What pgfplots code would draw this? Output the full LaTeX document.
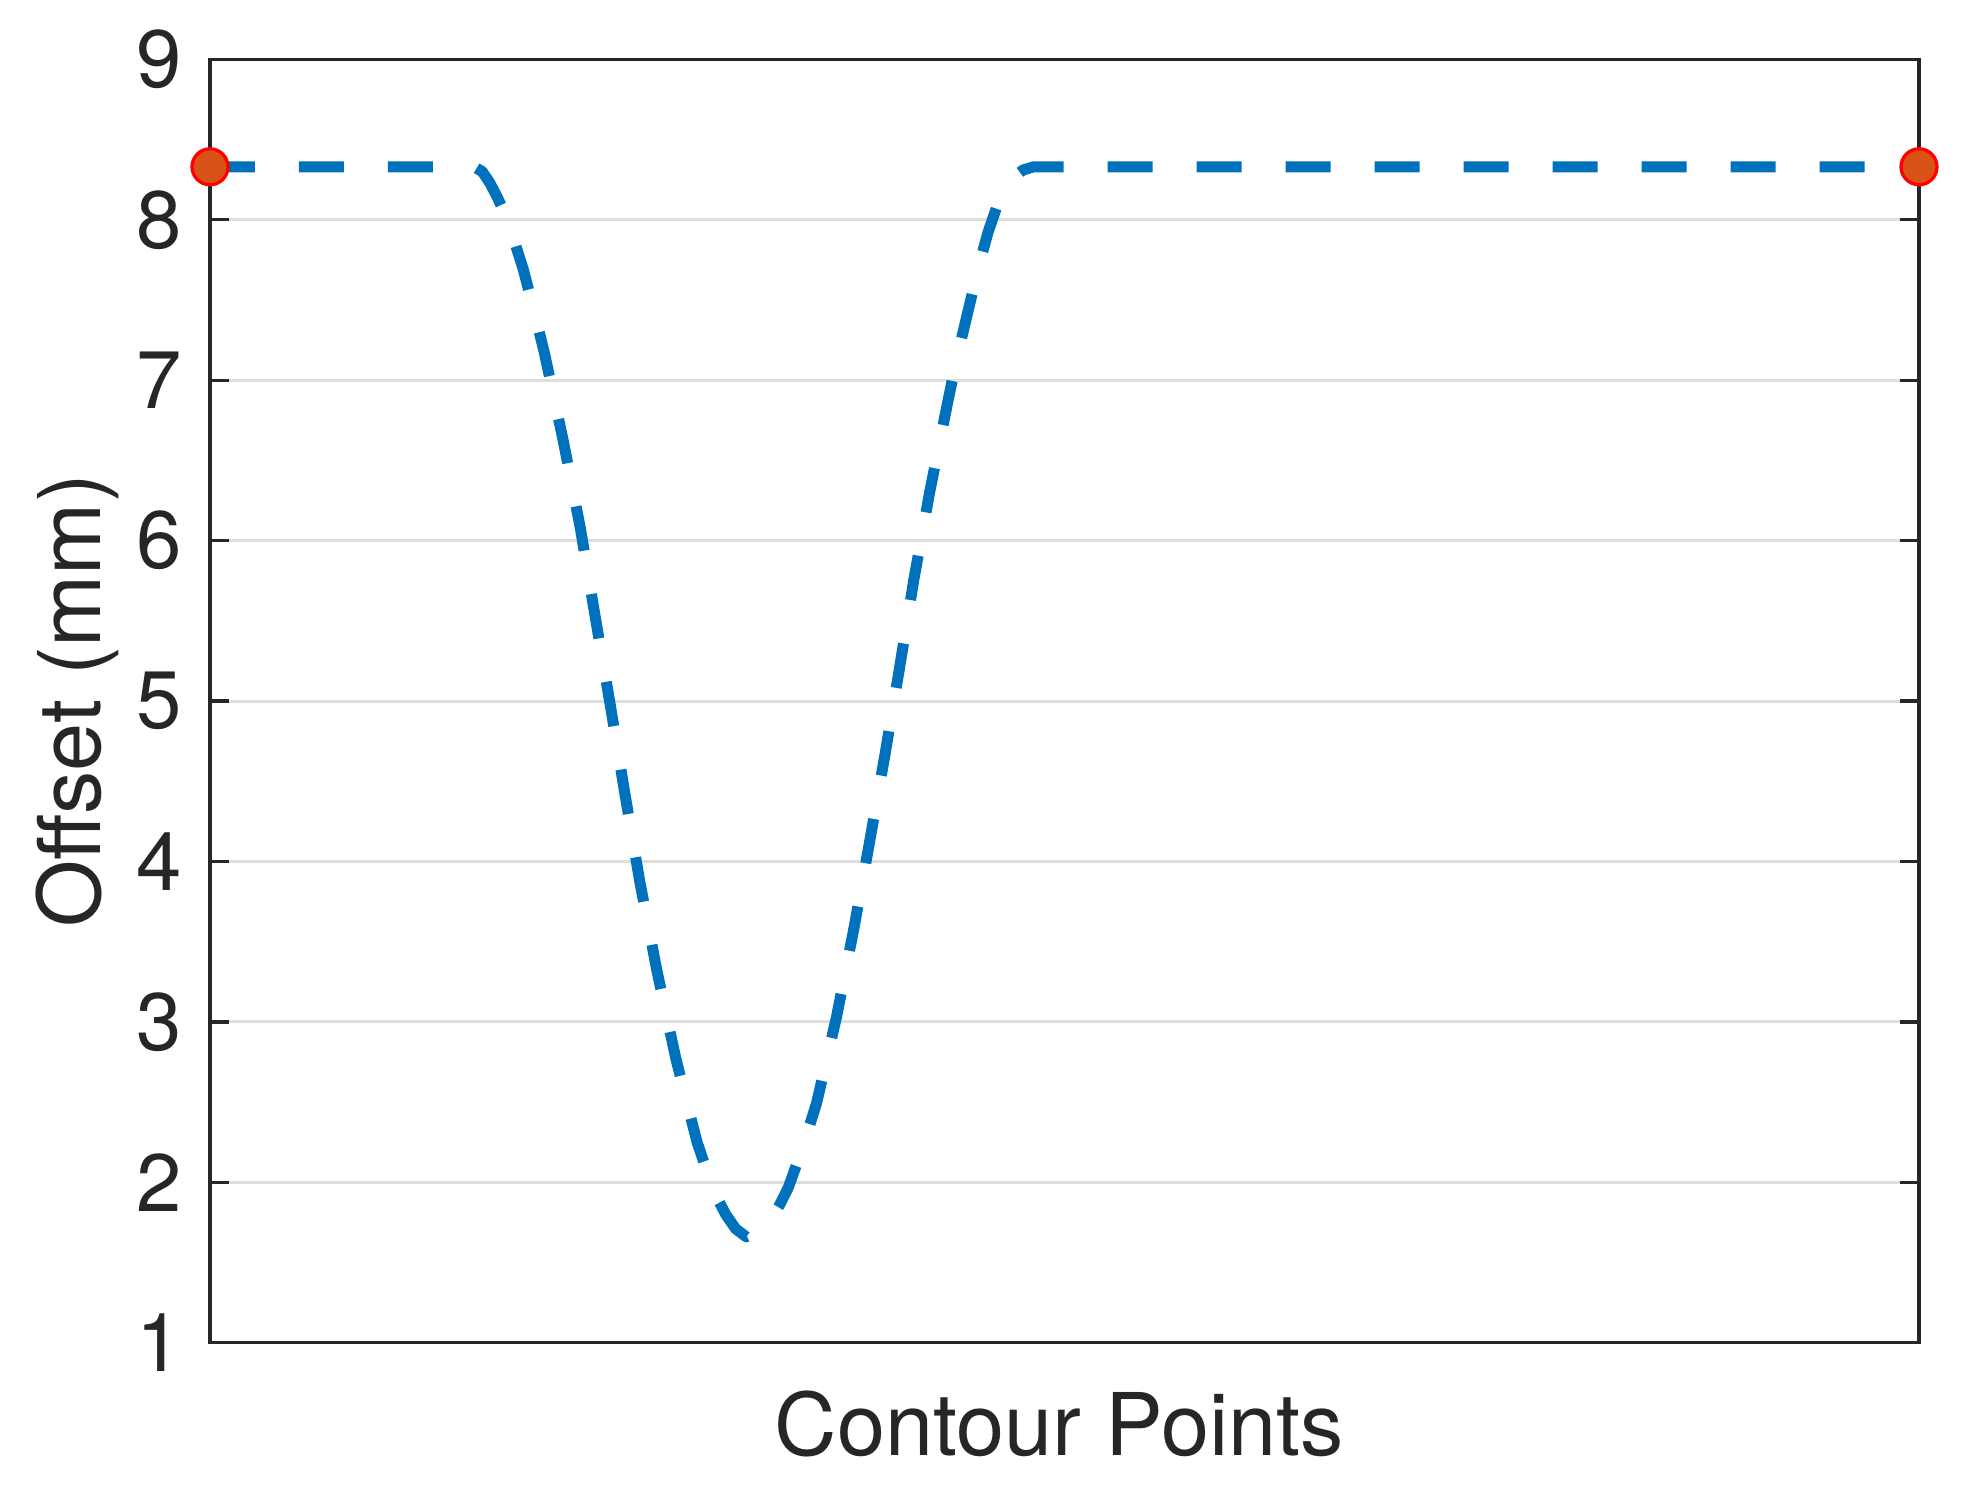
\documentclass[border=0pt]{standalone}
\usepackage{pgfplots}
\pgfplotsset{compat=1.18}
\usepackage{fontspec}
\setmainfont{TeX Gyre Heros}
\definecolor{axgray}{HTML}{262626}
\definecolor{mblue}{HTML}{0072BD}
\definecolor{morange}{HTML}{D95319}
\definecolor{gridc}{HTML}{DEDEDE}
\begin{document}
\begin{tikzpicture}
\begin{axis}[
  anchor=south west, at={(0,0)},
  scale only axis,
  width=341.8pt, height=256.7pt,
  xmin=167, xmax=1529, ymin=1, ymax=9,
  xtick=\empty,
  ytick={1,2,3,4,5,6,7,8,9},
  ymajorgrids,
  major grid style={gridc, line width=0.6pt},
  axis line style={axgray, line width=0.65pt},
  tick style={axgray, line width=0.65pt},
  major tick length=3.8pt,
  tick align=inside,
  ticklabel style={font=\fontsize{16.3}{16.3}\selectfont, text=axgray},
  /pgf/number format/assume math mode=true,
  yticklabel style={inner sep=0pt, xshift=-5.4pt},
  xlabel={Contour Points},
  ylabel={Offset (mm)},
  every axis x label/.style={at={(axis description cs:0.497,-0.088)}, anchor=base, font=\fontsize{17.3}{17.3}\selectfont, text=axgray},
  every axis y label/.style={at={(axis description cs:-0.0778,0.5)}, rotate=90, anchor=center, font=\fontsize{17.3}{17.3}\selectfont, text=axgray},
  clip=false,
]
\addplot[mblue, line width=2.2pt, dash pattern=on 9pt off 8.8pt, line join=round] coordinates {
(167,8.33) (377.6,8.33) (384,8.30) (390,8.23) (396,8.14) (403,8.02) (409,7.88) (416.7,7.69)
(425,7.44) (433.5,7.17) (448.6,6.62)
(462.1,6.08) (473.9,5.53) (485.9,4.98) (497.5,4.43) (509.4,3.88) (522.9,3.33)
(538,2.78) (547,2.50) (555.2,2.25) (566,2.0) (572,1.89) (578,1.80) (586,1.71) (594.4,1.66) (603,1.69)
(614,1.77) (621,1.86) (628,1.97) (639,2.21) (650.3,2.49) (666.3,3.03) (680.1,3.58) (692.4,4.11)
(704.8,4.66) (716.6,5.21) (728,5.76) (740.5,6.30) (754.6,6.85) (762,7.13) (770.2,7.40)
(780,7.72) (787,7.92) (794,8.08) (801,8.19) (808,8.27) (815,8.31) (823.5,8.33) (1529,8.33)
};
\addplot[only marks, mark=*, mark size=3.6pt, mark options={fill=morange, draw=red, line width=0.65pt}] coordinates {
(167,8.33) (1529,8.33)
};
\end{axis}
\pgfresetboundingbox
\useasboundingbox (-42pt,-32.6pt) rectangle (351.6pt,268.56pt);
\end{tikzpicture}
\end{document}
